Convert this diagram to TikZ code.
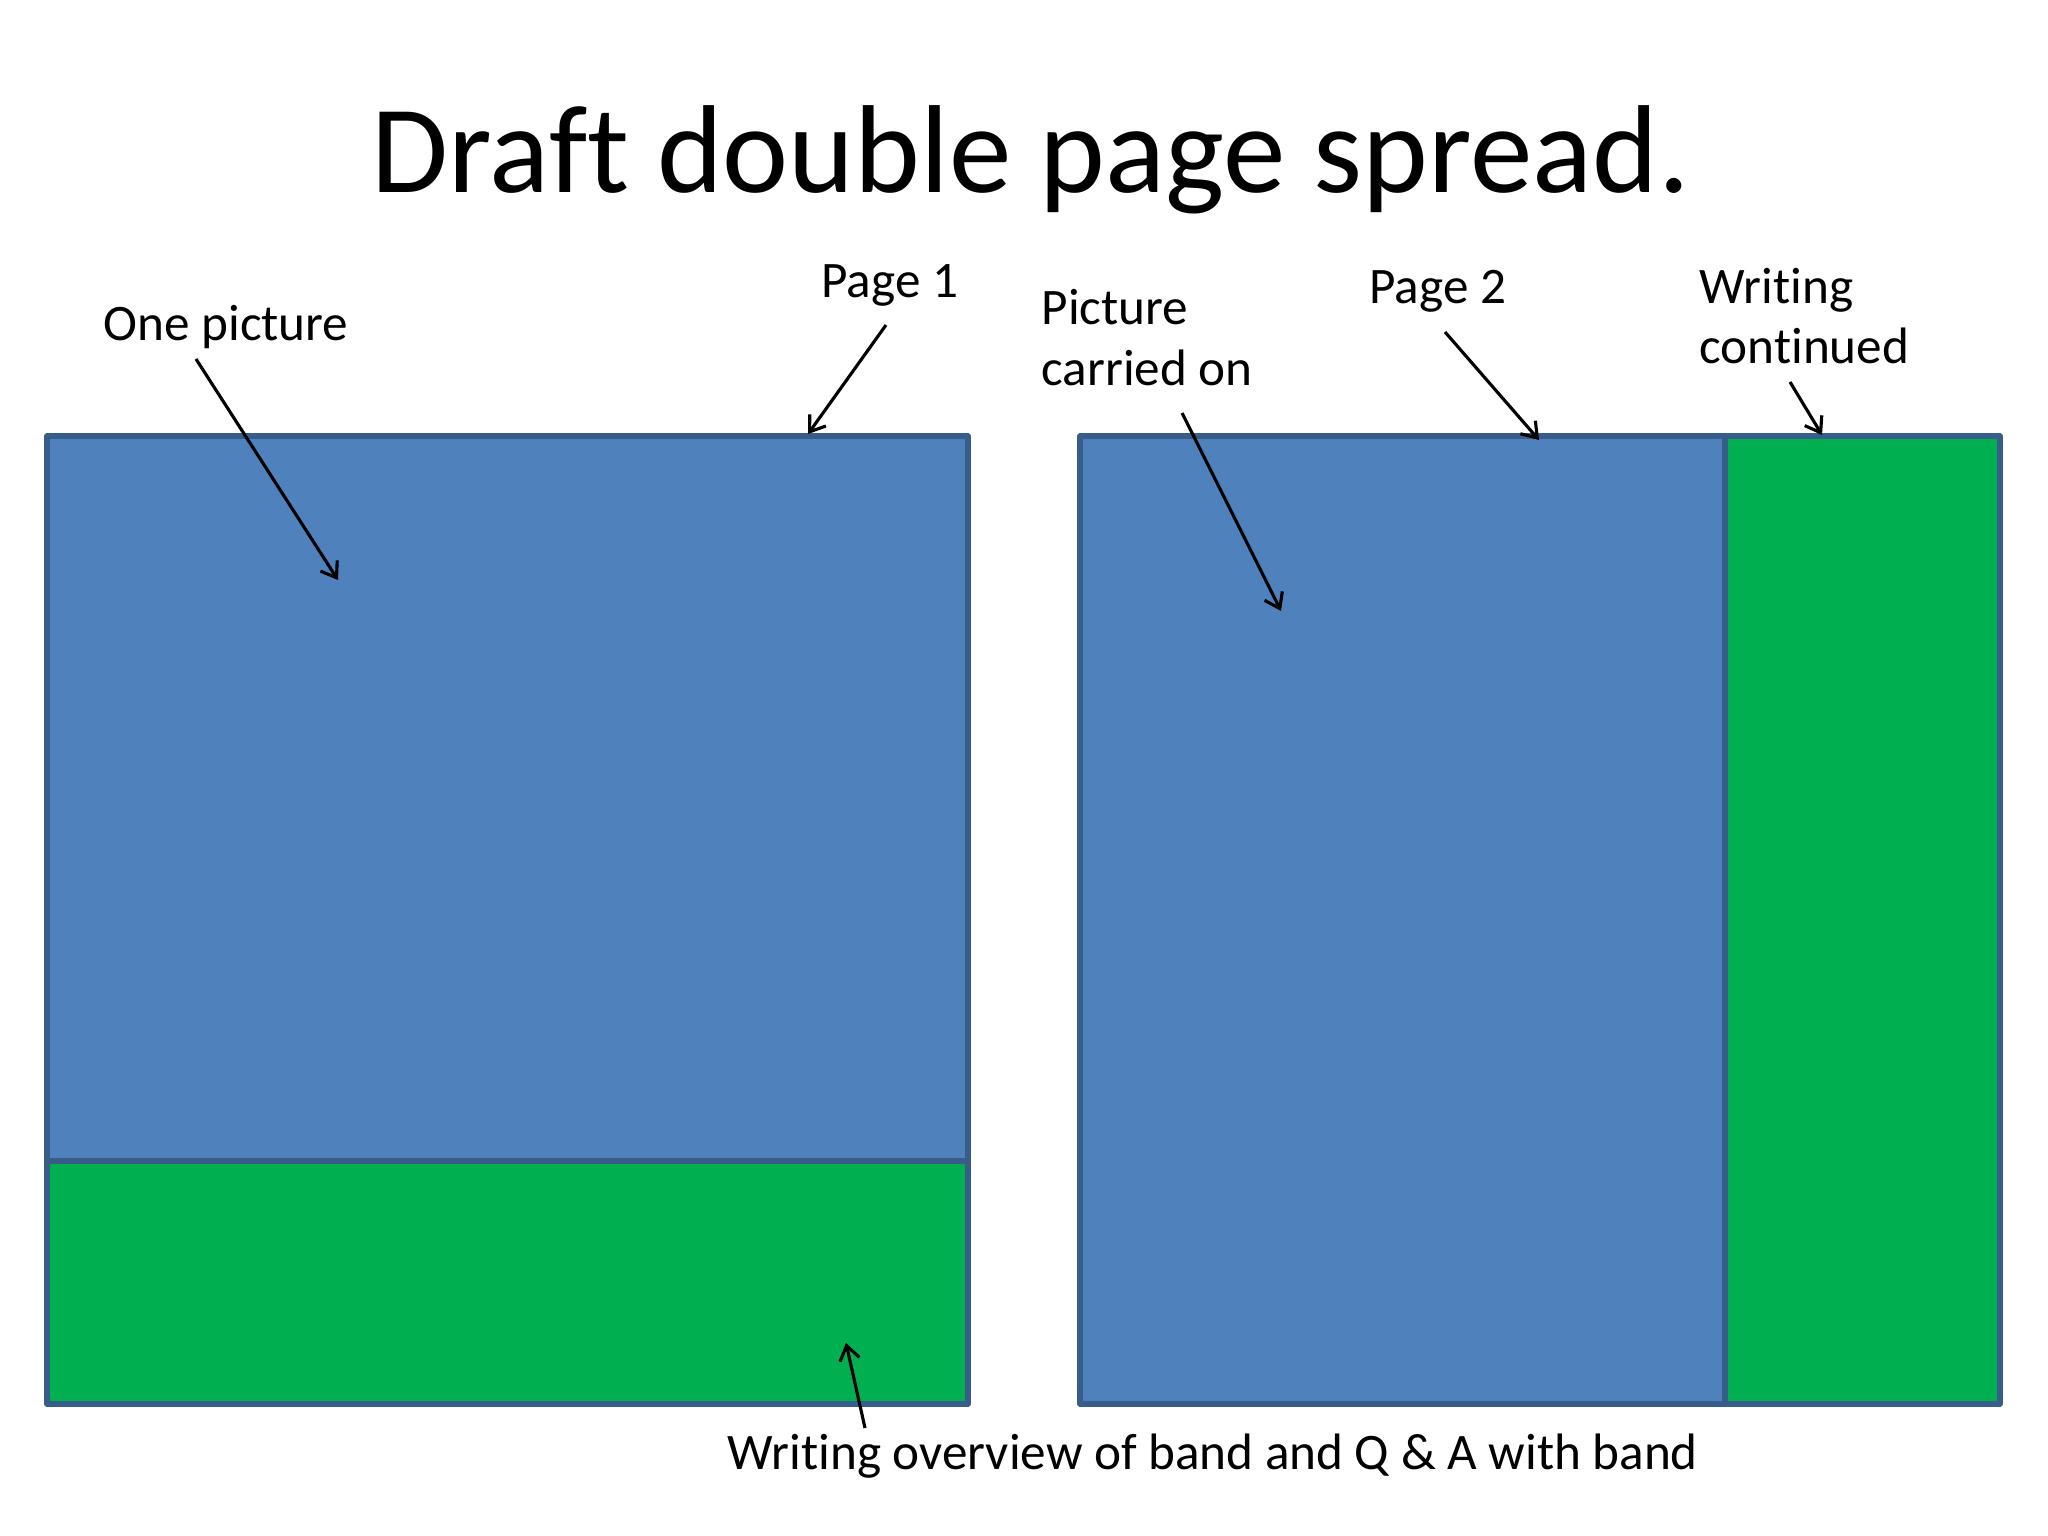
\documentclass[tikz,border=0pt]{standalone}
\usepackage{fontspec}
\setmainfont{Carlito}[Ligatures={NoCommon}]
\usetikzlibrary{arrows.meta}
\definecolor{pblue}{HTML}{4F81BD}
\definecolor{pgreen}{HTML}{00B050}
\definecolor{pedge}{HTML}{385D8A}
\begin{document}
\begin{tikzpicture}[x=0.3515625pt,y=-0.3515625pt,
  lbl/.style={font=\fontsize{18}{21.6}\selectfont, inner sep=0pt, anchor=base west},
  arr/.style={-{Straight Barb[length=5pt,width=7pt]}, line width=1.1pt},
  bluebox/.style={fill=pblue, draw=pedge, line width=1.9pt, line join=round},
  greenbox/.style={fill=pgreen, draw=pedge, line width=1.9pt, line join=round}]
\useasboundingbox (0,0) rectangle (2048,1536);
\node[font=\fontsize{44}{52}\selectfont, inner sep=0pt, anchor=base] (title) at (1031,193) {Draft double page spread.};
% pages
\draw[bluebox] (47,436) rectangle (968,1161);
\draw[greenbox] (47,1161) rectangle (968,1404);
\draw[bluebox] (1080,436) rectangle (1725,1404);
\draw[greenbox] (1725,436) rectangle (2000,1404);
% labels
\node[lbl] (onepic) at (103,341) {One picture};
\node[lbl] (page1) at (821,298) {Page 1};
\node[lbl] (pic1) at (1041,325) {Picture};
\node[lbl] (pic2) at (1041,386) {carried on};
\node[lbl] (page2) at (1369,304) {Page 2};
\node[lbl] (wr1) at (1699,304) {Writing};
\node[lbl] (wr2) at (1699,364) {continued};
\node[lbl] (bottom) at (727,1469) {Writing overview of band and Q \& A with band};
% arrow ends
\coordinate (s1) at (196,359); \coordinate (t1) at (338,580);
\coordinate (s2) at (886,325); \coordinate (t2) at (808,434);
\coordinate (s3) at (1182,413); \coordinate (t3) at (1281,611);
\coordinate (s4) at (1445,332); \coordinate (t4) at (1539,440);
\coordinate (s5) at (1790,382); \coordinate (t5) at (1822,435);
\coordinate (s6) at (865,1428); \coordinate (t6) at (846,1343);
\draw[arr] (s1) -- (t1);
\draw[arr] (s2) -- (t2);
\draw[arr] (s3) -- (t3);
\draw[arr] (s4) -- (t4);
\draw[arr] (s5) -- (t5);
\draw[arr] (s6) -- (t6);
\end{tikzpicture}
\end{document}
